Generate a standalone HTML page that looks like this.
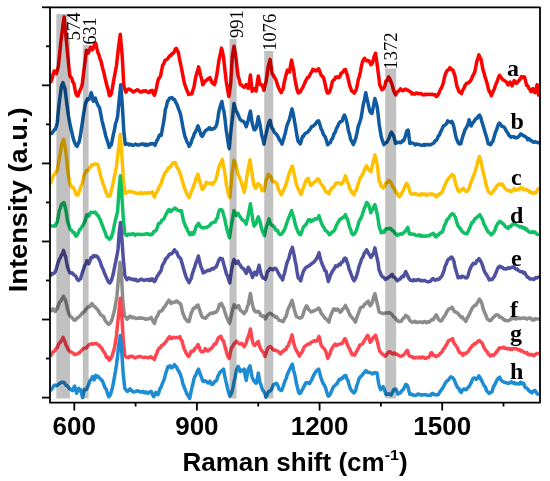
<!DOCTYPE html>
<html><head><meta charset="utf-8"><style>
html,body{margin:0;padding:0;background:#fff;}
body{width:550px;height:481px;overflow:hidden;}
svg{display:block;}
.tl{font-family:"Liberation Sans",Arial,sans-serif;font-weight:bold;font-size:26px;fill:#000;}
.ax{font-family:"Liberation Sans",Arial,sans-serif;font-weight:bold;font-size:25px;fill:#000;}
.pk{font-family:"Liberation Serif","Times New Roman",serif;font-size:18px;fill:#000;}
.lt{font-family:"Liberation Serif","Times New Roman",serif;font-weight:bold;font-size:24px;fill:#000;}
</style></head><body>
<svg width="550" height="481" viewBox="0 0 550 481">
<rect width="550" height="481" fill="#fff"/>

<g fill="none" stroke-width="3.5" stroke-linejoin="round" stroke-linecap="round">
<polyline stroke="#ff0000" points="51.0,81.5 52.1,78.7 53.1,74.1 54.2,71.0 55.2,72.5 56.2,73.7 57.2,70.6 58.3,66.7 59.6,54.3 61.0,40.5 62.1,32.1 63.1,24.0 64.2,16.9 65.4,30.6 66.7,44.2 67.9,56.6 68.8,66.0 69.8,75.3 70.8,77.1 71.8,78.3 72.8,82.0 73.9,83.6 75.0,89.3 76.0,93.7 77.0,95.8 78.0,95.9 79.0,92.7 80.1,90.3 81.2,87.8 82.2,84.2 83.2,76.1 84.3,67.3 85.3,59.8 86.4,50.3 87.5,51.0 88.5,52.9 89.5,50.2 90.5,47.1 91.5,48.0 92.6,49.8 93.6,46.9 94.7,44.3 95.7,43.2 96.8,48.4 97.8,52.2 98.9,54.7 99.9,58.6 101.0,61.0 102.5,67.7 104.0,72.9 105.1,78.4 106.1,82.2 107.2,86.6 108.2,90.0 109.3,95.4 110.3,95.4 111.3,93.7 112.3,88.5 113.4,82.1 114.4,76.5 115.5,70.9 116.5,65.2 117.5,56.4 118.6,46.5 120.3,34.3 121.3,46.0 122.3,57.2 123.8,85.7 124.8,89.3 125.9,92.1 126.9,90.2 128.0,89.4 129.0,88.9 130.4,89.9 131.8,90.6 133.2,92.1 134.6,91.2 135.9,90.7 137.3,89.7 138.7,90.7 140.1,91.9 141.5,92.0 142.9,90.9 144.2,91.2 145.6,90.6 146.8,91.6 148.0,92.4 149.2,92.5 150.2,90.8 151.3,91.7 152.3,90.3 153.4,93.7 154.4,95.2 155.4,92.2 156.4,88.2 157.4,83.0 158.5,78.8 159.6,77.8 160.6,75.6 161.6,70.5 162.7,65.2 163.8,63.9 164.8,60.6 165.8,60.0 166.8,59.5 167.9,58.5 168.9,56.8 169.9,55.6 171.0,55.5 172.1,53.4 173.1,53.5 174.1,52.1 175.2,49.3 176.2,48.3 177.2,50.3 178.3,52.4 179.3,57.7 180.3,62.6 181.4,67.9 182.4,73.0 183.4,78.1 184.5,83.6 185.6,86.8 186.6,89.6 187.6,91.7 188.7,94.5 189.7,94.0 190.8,94.0 191.8,93.9 192.9,90.2 193.9,87.6 194.9,81.6 195.9,76.2 197.2,72.1 198.6,66.9 199.6,71.1 200.7,75.6 201.8,79.6 202.8,84.8 204.1,83.0 205.3,80.9 206.4,80.6 207.4,79.1 208.7,79.0 209.9,77.6 210.9,80.0 211.9,82.3 213.2,83.7 214.6,84.6 215.6,80.5 216.7,75.4 217.8,68.2 218.8,61.2 220.2,54.5 221.5,48.1 222.6,52.2 223.6,57.7 224.8,69.2 226.1,80.4 227.4,88.8 228.8,96.5 229.8,90.2 230.7,83.5 232.3,56.5 234.0,46.2 235.1,51.8 236.1,58.5 237.1,67.6 238.1,76.0 239.1,79.2 240.2,84.5 241.5,84.9 242.9,86.5 244.2,87.3 245.2,86.8 246.2,84.5 247.2,86.5 248.3,88.3 249.4,82.1 250.4,75.0 252.1,91.2 253.1,90.4 254.1,88.7 255.1,89.8 256.2,91.0 257.2,83.3 258.3,75.9 259.8,83.6 260.8,84.8 261.8,84.7 262.9,87.0 263.9,90.3 264.9,85.7 266.0,82.0 267.1,74.7 268.1,66.9 269.1,63.3 270.1,59.4 271.1,66.7 272.2,73.7 273.2,74.9 274.3,77.1 275.4,78.8 276.4,81.1 277.4,84.7 278.5,87.6 279.9,90.5 281.2,92.7 282.2,90.3 283.2,88.6 284.2,82.6 285.3,77.9 286.4,73.7 287.4,70.1 288.4,71.7 289.5,72.0 290.6,65.4 291.6,60.1 292.6,65.3 293.6,70.1 294.6,77.0 295.7,83.2 296.9,88.9 298.2,93.0 299.2,92.4 300.3,92.0 301.3,89.8 302.4,88.1 303.4,86.2 304.4,83.8 305.5,81.3 306.5,79.4 307.5,77.6 308.6,77.2 309.6,75.6 310.7,73.3 311.7,72.0 312.8,69.4 313.8,70.2 314.9,70.1 315.9,71.0 317.2,70.1 318.6,68.7 319.9,71.8 321.1,75.2 322.1,76.0 323.2,77.2 324.2,79.8 325.2,84.7 326.2,89.3 327.3,92.9 328.6,93.1 329.8,91.4 331.1,87.0 332.5,81.3 333.5,80.0 334.6,79.4 335.6,77.2 336.8,76.8 338.0,77.5 339.2,77.5 340.2,75.6 341.2,73.0 342.2,72.6 343.3,71.7 344.4,69.7 345.4,69.5 346.4,72.5 347.5,75.9 348.6,80.7 349.6,85.5 350.6,87.9 351.6,90.9 352.9,91.8 354.1,93.1 355.1,92.1 356.2,89.7 357.2,85.7 358.3,79.5 359.4,76.2 360.4,71.6 361.4,66.3 362.4,62.2 363.4,59.9 364.5,58.3 365.6,59.8 366.6,60.9 367.6,60.5 368.7,60.7 369.8,62.0 370.8,64.7 371.8,64.0 372.8,61.6 374.1,56.8 375.5,53.2 376.6,60.5 377.6,67.9 378.6,75.6 379.7,84.7 380.8,87.2 381.8,89.7 382.9,89.2 383.9,88.2 384.9,85.6 385.9,81.2 387.2,80.6 388.6,77.0 389.9,79.1 391.1,82.1 392.1,84.5 393.2,89.0 394.4,92.5 395.7,94.9 396.8,92.6 397.8,91.5 399.1,90.9 400.5,88.8 401.6,90.2 402.6,90.7 403.6,90.4 404.7,89.4 405.7,89.1 406.7,89.9 407.8,89.9 408.8,90.9 409.8,91.3 410.9,92.1 411.9,93.9 412.9,93.3 414.0,94.0 415.1,94.0 416.1,92.9 417.3,93.2 418.6,93.8 419.8,93.6 421.1,93.5 422.3,94.6 423.6,94.9 424.8,94.2 426.1,94.8 427.3,94.2 428.6,94.3 429.7,94.5 430.8,94.6 432.0,94.2 433.1,94.7 434.2,94.7 435.2,94.7 436.3,96.5 437.3,95.8 438.3,94.2 439.4,91.9 440.4,89.6 441.4,87.9 442.5,85.4 443.6,81.8 444.6,76.7 445.6,73.7 446.6,71.4 447.7,70.1 448.7,69.8 449.8,67.7 450.8,68.6 451.9,69.6 452.9,70.0 453.9,72.9 454.9,75.7 455.9,80.8 457.0,86.5 458.1,89.2 459.1,91.8 460.4,92.4 461.6,93.6 462.6,90.3 463.7,88.8 465.0,85.5 466.4,83.5 467.4,82.9 468.5,82.9 469.5,81.8 470.5,80.8 471.6,78.9 472.6,76.0 473.6,74.5 474.7,72.1 475.8,66.9 476.8,61.4 477.9,58.3 478.9,54.9 479.9,57.7 480.9,58.9 481.9,64.1 483.0,69.9 484.1,73.2 485.1,77.3 486.1,80.3 487.2,83.5 488.2,88.2 489.3,91.6 490.3,92.9 491.3,95.7 492.4,93.5 493.4,90.6 494.4,88.8 495.5,85.1 496.6,82.8 497.6,80.1 498.6,77.2 499.6,75.4 500.6,76.8 501.7,78.3 502.8,79.8 503.8,80.2 504.9,81.0 505.9,81.5 506.9,82.8 508.0,84.9 509.0,83.1 510.0,82.1 511.1,84.1 512.1,85.8 513.2,82.5 514.2,80.6 515.2,81.9 516.3,83.4 517.3,82.7 518.4,81.0 519.4,80.2 520.5,78.5 521.5,76.7 522.5,77.5 523.6,76.7 524.6,77.1 525.7,81.7 526.7,85.6 527.8,85.9 528.8,88.3 529.8,89.2 530.8,91.7 531.8,91.0 532.9,88.5 534.0,91.5 535.0,92.7 536.0,89.2 537.1,84.7 538.5,94.9"/>
<polyline stroke="#0f5aa0" points="51.0,133.6 52.0,133.3 53.1,131.5 54.2,129.9 55.2,129.6 56.2,126.4 57.3,122.7 58.3,111.3 59.4,101.6 60.4,93.8 61.4,86.3 62.9,82.6 64.0,85.8 65.0,88.9 66.6,102.0 67.7,110.4 68.7,117.4 69.8,123.2 70.8,128.3 71.8,132.0 72.9,137.3 73.9,140.6 74.9,143.2 76.0,145.3 77.0,146.4 78.0,144.0 79.1,142.2 80.2,136.9 81.2,130.3 82.2,123.4 83.3,115.5 84.3,110.0 85.3,104.0 86.3,101.5 87.4,98.9 88.5,99.6 89.5,98.9 91.2,92.7 92.2,95.8 93.2,101.3 94.2,99.5 95.3,98.0 96.3,101.3 97.4,104.0 98.5,106.2 99.5,107.5 100.8,114.2 102.0,120.6 103.2,125.5 104.5,130.5 105.8,136.2 107.2,140.3 108.2,143.5 109.3,147.4 110.3,145.5 111.3,145.0 112.3,139.8 113.4,134.1 114.5,129.8 115.5,123.7 116.5,121.0 117.6,116.4 119.2,100.0 120.7,84.8 122.3,105.0 123.8,131.1 125.3,144.5 126.7,143.9 128.0,143.7 129.3,144.9 130.6,144.2 131.9,145.0 133.2,145.4 134.4,144.9 135.7,144.0 136.9,145.0 138.2,145.1 139.4,144.8 140.7,144.6 142.0,143.9 143.3,144.0 144.6,145.2 145.8,144.2 146.9,145.4 148.0,144.4 149.2,144.7 150.2,143.8 151.3,144.0 152.3,143.5 153.7,143.9 155.0,145.2 156.1,142.6 157.1,140.2 158.1,138.6 159.1,135.8 160.1,134.6 161.2,135.5 162.2,129.9 163.3,123.9 164.4,117.4 165.4,109.2 166.4,106.5 167.5,101.2 168.5,100.4 169.5,98.3 170.8,98.1 172.0,97.5 173.2,99.2 174.5,99.5 175.6,102.1 176.6,103.7 177.6,106.1 178.7,109.4 179.8,111.9 180.8,115.6 181.8,121.0 182.8,126.5 183.9,131.8 184.9,136.4 185.9,138.7 187.0,142.0 188.1,143.5 189.1,146.4 190.1,144.9 191.2,142.6 192.2,138.9 193.2,137.1 194.2,134.0 195.3,132.2 196.7,129.1 198.0,125.9 199.1,129.1 200.1,132.2 201.1,135.1 202.2,136.5 203.2,134.6 204.3,132.4 205.7,130.4 207.0,129.9 208.2,128.9 209.4,127.6 210.7,129.4 211.9,128.8 213.2,129.0 214.6,128.0 215.6,127.0 216.7,124.7 217.8,118.6 218.8,112.1 219.8,107.7 220.9,104.4 221.9,101.5 222.9,107.5 224.0,111.4 225.1,119.8 226.1,129.3 227.1,135.8 228.2,143.5 229.2,148.7 230.2,138.1 231.3,127.0 232.7,115.7 234.0,103.5 235.1,107.6 236.1,110.5 237.1,112.3 238.1,114.6 239.1,117.1 240.2,119.7 241.5,120.7 242.9,121.2 244.2,122.3 245.2,124.3 246.2,126.8 247.2,123.7 248.3,119.7 249.4,114.9 250.4,111.1 252.1,122.7 253.1,126.5 254.1,129.8 255.1,129.7 256.2,127.9 257.2,122.9 258.3,116.8 259.8,123.6 260.8,129.2 261.8,135.5 262.9,139.0 263.9,144.3 264.9,138.8 266.0,134.3 267.1,129.3 268.1,125.0 269.1,121.9 270.1,120.3 271.1,125.2 272.2,128.5 273.2,129.5 274.3,132.4 275.4,133.2 276.4,134.2 277.4,135.8 278.5,137.5 279.5,140.0 280.8,141.5 282.0,144.1 283.1,140.6 284.1,137.2 285.5,132.2 286.8,126.0 288.1,122.7 289.5,119.1 290.8,113.6 292.0,108.9 293.1,113.4 294.1,118.8 295.1,124.5 296.1,130.2 297.1,136.5 298.2,141.5 299.2,142.3 300.3,143.9 301.4,140.5 302.4,136.6 303.4,136.5 304.5,134.2 305.5,133.3 306.5,132.9 307.6,132.1 308.6,131.0 309.6,129.9 310.7,128.2 311.7,126.4 312.7,126.5 313.8,125.5 314.8,124.7 316.1,122.9 317.3,121.2 318.6,120.8 319.9,124.6 321.1,129.0 322.1,130.5 323.2,134.0 324.2,135.7 325.2,136.7 326.4,140.6 327.7,144.8 329.0,143.3 330.4,142.6 331.4,139.6 332.5,138.5 333.9,134.1 335.2,132.2 336.4,128.7 337.7,126.3 338.9,123.4 340.2,121.8 341.2,121.5 342.3,120.8 343.4,117.1 344.4,115.0 345.4,117.3 346.4,120.5 347.4,125.1 348.5,130.9 349.6,134.4 350.6,139.4 352.0,141.7 353.3,144.6 354.6,141.6 355.8,138.2 357.1,132.4 358.3,126.1 359.6,122.8 361.0,118.3 362.1,111.7 363.1,105.5 364.5,99.4 365.8,92.7 366.8,98.2 367.8,102.0 368.9,107.4 369.9,111.4 370.9,112.7 372.0,113.5 373.4,106.5 374.9,98.4 375.9,102.1 377.0,105.8 378.1,114.3 379.1,123.8 380.1,130.0 381.2,136.6 382.5,141.0 383.9,144.7 385.2,142.9 386.6,142.6 387.9,140.3 389.1,138.0 390.3,134.4 391.5,132.2 392.6,134.3 393.6,135.7 394.6,139.5 395.7,143.4 397.0,142.6 398.4,142.6 399.4,142.1 400.5,142.8 401.5,142.3 402.5,140.6 403.6,140.7 404.6,138.4 405.6,135.3 406.7,131.1 408.2,130.0 409.8,143.4 411.2,142.8 412.6,143.1 414.0,143.6 415.2,144.9 416.5,144.1 417.7,144.3 419.0,144.6 420.2,144.9 421.5,145.3 422.7,145.2 424.0,144.4 425.2,145.4 426.5,144.5 427.6,144.6 428.7,144.9 429.8,144.8 430.9,144.7 432.0,143.9 433.1,143.6 434.1,142.6 435.2,140.7 436.2,140.5 437.3,138.7 438.3,136.0 439.4,135.2 440.4,132.1 441.4,130.7 442.4,128.2 443.5,125.8 444.6,125.4 445.6,124.4 446.6,123.5 447.7,120.9 448.8,121.7 449.8,121.8 450.8,122.4 451.8,121.4 452.9,123.5 453.9,127.1 454.9,131.9 456.0,137.4 457.1,140.1 458.1,142.7 459.5,144.1 460.8,143.7 461.8,139.9 462.8,136.3 463.9,133.2 464.9,130.0 465.9,128.3 467.0,126.5 468.1,124.1 469.1,119.8 470.1,123.3 471.2,126.0 472.4,123.3 473.7,121.8 474.7,120.4 475.7,118.7 476.8,118.5 477.8,116.8 479.5,115.0 480.6,117.0 481.6,120.8 482.6,124.0 483.6,127.3 484.6,130.7 485.7,134.4 486.9,138.2 488.2,143.8 489.4,144.1 490.7,144.7 491.8,142.2 492.8,141.5 494.1,136.9 495.5,132.3 496.6,129.8 497.6,126.4 498.6,123.9 499.6,123.1 500.6,124.5 501.7,126.2 503.0,126.5 504.4,127.4 505.4,129.3 506.5,131.3 507.8,133.1 509.0,135.5 510.0,136.1 511.1,137.3 512.1,136.7 513.1,136.9 514.2,136.8 515.2,137.8 516.3,137.8 517.3,137.6 518.4,136.6 519.4,135.9 520.5,134.1 521.5,134.2 522.5,135.0 523.6,136.0 524.6,136.1 525.6,136.9 526.7,137.8 527.7,139.8 528.7,138.5 529.8,139.6 530.8,140.7 531.9,140.7 532.9,142.1 534.0,142.2 535.4,141.8 536.7,142.3 538.1,142.7"/>
<polyline stroke="#ffc000" points="51.0,182.6 52.0,179.2 53.1,176.0 54.2,174.5 55.2,173.8 56.2,171.5 57.3,170.1 58.3,164.3 59.4,157.9 60.4,152.3 61.4,145.3 62.5,142.1 63.5,139.3 64.5,143.8 65.6,150.1 66.7,159.7 67.7,170.1 68.8,177.3 69.8,183.2 70.8,185.6 71.8,187.5 72.8,187.2 73.9,188.7 75.0,191.1 76.0,194.6 77.0,194.7 78.1,195.0 79.1,192.2 80.1,189.2 81.2,185.9 82.2,183.6 83.2,178.7 84.3,174.3 85.3,173.0 86.4,170.5 87.5,171.1 88.5,170.1 89.5,167.7 90.5,166.8 91.6,164.9 92.6,165.2 93.7,164.3 94.7,164.3 95.7,163.7 96.8,164.3 97.8,164.4 98.8,168.0 99.9,172.4 101.0,177.1 102.0,180.0 103.0,183.7 104.1,186.2 105.1,189.7 106.1,192.4 107.2,194.5 108.2,196.3 109.2,195.3 110.3,195.7 111.3,190.3 112.4,186.4 113.4,181.3 114.4,176.3 115.5,171.7 116.5,165.9 117.5,157.1 118.6,148.1 120.3,134.3 121.9,156.3 123.6,183.0 125.3,193.6 126.7,192.8 128.0,192.0 129.0,191.5 130.1,191.5 131.1,191.6 132.5,192.0 133.8,192.3 135.2,192.7 136.2,193.2 137.3,193.4 138.3,193.3 139.4,193.3 140.8,192.4 142.2,193.8 143.6,193.1 144.7,192.8 145.8,193.1 147.0,193.5 148.1,192.6 149.2,192.7 150.2,192.7 151.3,193.0 152.3,191.9 153.4,194.6 154.4,197.1 155.4,194.0 156.4,192.7 157.8,190.2 159.1,187.3 160.1,185.2 161.2,183.7 162.2,179.8 163.3,176.7 164.4,174.7 165.4,172.1 166.4,171.4 167.5,169.7 168.5,167.8 169.5,167.7 170.6,166.4 171.6,164.7 172.8,163.2 174.1,162.4 175.1,162.9 176.2,165.0 177.2,167.9 178.3,168.9 179.3,171.4 180.3,174.1 181.4,177.6 182.4,181.2 183.4,184.4 184.5,188.7 185.6,190.2 186.6,193.8 187.8,195.1 189.1,197.6 190.1,194.9 191.2,191.8 192.6,188.7 193.9,185.0 194.9,182.5 195.9,178.9 196.9,176.4 198.0,174.2 199.1,179.2 200.1,182.6 201.1,186.2 202.2,189.3 203.2,188.7 204.3,186.4 205.3,185.1 206.3,182.3 207.3,183.0 208.4,183.1 209.4,183.2 210.5,183.7 211.5,183.0 212.6,184.4 213.6,182.5 214.7,181.6 215.7,180.1 216.9,175.6 218.2,169.5 219.2,166.3 220.3,163.3 221.3,161.8 222.3,159.4 223.4,165.6 224.4,170.2 225.4,177.1 226.5,185.2 227.6,190.4 228.6,195.1 229.8,197.3 230.9,186.0 231.9,174.6 232.9,167.6 234.0,160.3 235.1,162.5 236.1,165.3 237.1,169.6 238.1,174.1 239.1,176.6 240.2,179.3 241.5,183.0 242.9,187.4 244.2,192.2 245.2,187.1 246.2,180.8 247.2,174.1 248.3,168.6 250.0,159.7 251.6,170.8 252.6,177.4 253.7,184.3 254.8,186.8 255.8,188.4 256.9,185.8 257.9,183.7 258.9,184.9 260.0,185.1 261.0,187.3 262.0,190.7 263.1,190.0 264.1,190.7 265.1,185.0 266.2,179.7 267.2,177.6 268.3,174.2 269.4,175.5 270.4,176.2 271.4,178.1 272.4,181.3 273.4,181.8 274.5,181.7 275.6,182.2 276.6,183.1 277.6,186.5 278.7,189.9 279.9,191.8 281.2,194.9 282.4,192.6 283.7,189.7 284.9,187.3 286.2,183.9 287.2,180.2 288.2,176.7 289.2,173.5 290.3,170.2 291.4,167.7 292.4,166.2 293.4,170.6 294.5,175.8 295.5,180.4 296.5,184.4 297.6,187.8 298.6,189.5 299.9,192.0 301.1,194.5 302.4,190.4 303.6,187.4 304.9,183.2 306.1,180.2 307.1,179.3 308.2,178.4 309.4,182.3 310.7,185.4 311.9,184.4 313.2,183.1 314.5,182.0 315.9,181.2 317.2,179.0 318.6,178.9 319.9,181.6 321.1,184.3 322.4,185.3 323.6,187.3 325.0,190.5 326.3,192.3 327.6,192.1 329.0,193.8 330.2,190.9 331.5,188.2 332.6,187.9 333.6,187.1 334.8,185.1 336.0,183.1 337.1,183.0 338.1,183.0 339.1,183.0 340.2,183.6 341.2,184.2 342.2,182.7 343.3,181.4 344.4,179.0 345.4,175.7 346.4,178.9 347.5,182.0 348.6,184.2 349.6,188.5 350.6,189.6 351.6,192.0 352.9,193.6 354.1,194.8 355.1,191.4 356.2,190.5 357.2,187.0 358.3,183.3 359.4,180.6 360.4,177.4 361.4,176.3 362.4,174.8 363.4,172.7 364.5,170.0 365.6,167.2 366.6,165.8 367.6,167.8 368.7,169.8 369.8,170.5 370.8,171.8 371.8,168.1 372.8,163.4 373.9,159.2 374.9,154.9 375.9,159.1 377.0,163.8 378.1,172.1 379.1,181.2 380.1,182.6 381.2,186.4 382.2,187.1 383.2,188.1 384.5,186.2 385.9,183.0 387.2,182.8 388.6,180.4 389.9,181.6 391.1,182.8 392.4,186.0 393.6,187.6 395.0,190.1 396.3,192.9 397.3,193.4 398.4,195.8 399.4,196.8 400.6,195.4 401.9,193.1 403.2,190.7 404.6,187.2 405.6,184.9 406.7,183.4 407.8,184.9 408.8,187.7 409.9,191.9 410.9,193.8 412.3,194.3 413.6,194.1 415.0,193.4 416.3,194.4 417.6,194.2 418.9,194.9 420.2,195.0 421.5,193.6 422.7,194.6 424.0,194.3 425.2,194.1 426.5,195.5 427.6,194.0 428.7,194.6 429.8,194.1 430.9,194.5 432.0,193.8 433.1,194.8 434.1,194.8 435.2,195.1 436.2,196.8 437.3,195.0 438.3,195.3 439.4,193.8 440.8,193.7 442.1,191.7 443.1,189.7 444.1,187.2 445.1,184.3 446.2,182.3 447.4,180.2 448.7,178.2 449.7,177.2 450.8,176.1 451.8,174.3 452.9,175.5 453.9,175.8 454.9,180.3 456.0,185.2 457.1,187.7 458.1,190.6 459.5,191.6 460.8,190.3 462.1,189.3 463.3,188.3 464.6,190.1 465.8,191.4 466.8,191.3 467.8,190.7 469.1,188.1 470.5,183.4 471.9,180.3 473.2,176.2 474.4,173.8 475.7,169.7 476.8,165.9 477.8,161.4 479.5,156.5 480.6,160.1 481.6,164.0 482.6,170.0 483.6,173.6 484.9,179.2 486.1,185.0 487.4,189.0 488.6,191.9 490.0,192.9 491.3,193.9 492.6,191.9 494.0,190.1 495.2,188.9 496.5,186.1 497.5,185.3 498.6,184.4 499.6,184.0 501.0,184.7 502.3,184.1 503.6,186.1 504.8,188.4 505.9,189.2 506.9,190.0 508.0,190.8 509.0,190.2 510.1,190.6 511.1,191.7 512.1,190.8 513.2,190.3 514.2,188.6 515.2,189.7 516.3,190.2 517.3,189.6 518.3,188.9 519.4,189.4 520.4,187.6 521.5,188.1 522.5,188.0 523.6,189.6 524.6,189.5 525.7,189.3 526.7,189.9 527.7,190.6 528.8,190.6 529.8,192.5 530.8,191.8 531.9,192.6 532.9,193.6 533.9,192.5 535.0,192.9 536.0,192.7 537.0,190.9 538.1,188.9"/>
<polyline stroke="#10c065" points="51.0,226.1 52.0,226.1 53.1,226.1 54.2,226.0 55.2,226.1 56.2,223.5 57.3,222.0 58.3,216.4 59.4,210.4 60.4,207.9 61.4,204.2 62.6,204.0 63.9,202.5 65.0,206.2 66.0,210.8 67.0,217.8 68.1,223.1 69.2,226.2 70.2,229.3 71.2,230.1 72.2,231.1 73.2,232.7 74.3,232.5 75.3,235.3 76.4,236.2 77.5,234.6 78.5,232.4 79.5,229.8 80.6,229.0 81.6,227.1 82.6,225.9 83.7,223.9 84.7,221.9 85.8,218.5 86.8,214.8 87.8,215.8 88.9,216.0 90.0,213.3 91.0,212.1 92.3,212.4 93.7,212.8 95.0,212.1 96.2,213.3 97.2,215.0 98.2,215.5 99.2,217.7 100.3,219.8 101.3,222.6 102.4,225.4 103.5,228.4 104.5,230.9 105.5,233.2 106.5,236.7 107.9,237.4 109.3,239.2 110.3,238.6 111.3,237.6 112.3,234.1 113.4,230.0 114.5,224.2 115.5,220.0 116.5,215.9 117.6,211.4 119.0,190.7 120.3,175.8 121.7,192.4 123.2,217.5 124.8,233.4 125.8,234.8 126.9,235.6 128.3,234.1 129.7,234.7 131.1,234.3 132.5,233.7 133.8,233.9 135.2,235.2 136.2,234.3 137.3,234.2 138.3,234.4 139.4,234.2 140.7,234.6 142.0,234.6 143.3,234.5 144.6,234.2 145.8,234.0 146.9,233.8 148.1,234.0 149.1,234.7 150.2,234.2 151.2,234.8 152.4,234.1 153.7,231.7 155.1,231.2 156.4,230.0 157.4,227.0 158.5,223.6 159.6,223.2 160.6,222.9 161.6,220.5 162.7,219.9 163.8,219.0 164.8,216.7 165.8,214.8 166.8,212.8 167.9,211.0 168.9,209.5 169.9,211.4 171.0,211.6 172.1,210.0 173.1,209.8 174.1,208.4 175.1,208.1 176.1,209.0 177.2,209.8 178.2,210.5 179.3,210.6 180.4,211.2 181.4,210.7 182.4,215.7 183.5,221.0 184.5,223.5 185.5,226.4 186.6,227.9 187.6,230.6 188.6,232.2 189.7,234.6 190.8,234.3 191.8,232.5 192.9,234.3 193.9,233.8 194.9,230.5 195.9,227.4 197.2,224.9 198.6,223.3 199.6,225.4 200.7,226.8 201.8,227.3 202.8,228.0 204.1,227.6 205.3,227.5 206.4,227.5 207.4,226.9 208.7,226.2 209.9,225.1 211.2,223.4 212.6,222.9 213.9,222.0 215.3,221.9 216.3,218.9 217.3,218.2 218.4,213.0 219.4,210.3 220.4,209.4 221.5,209.6 222.6,211.1 223.6,214.9 224.6,218.2 225.7,224.0 226.7,228.1 227.7,231.9 229.4,237.7 230.4,231.8 231.3,225.6 232.7,217.9 234.0,210.6 235.1,213.7 236.1,215.4 237.1,213.9 238.1,213.4 239.1,215.5 240.2,216.8 241.5,218.9 242.9,220.3 244.2,220.9 245.2,222.2 246.2,224.2 247.2,219.6 248.3,214.9 249.4,209.4 250.4,203.8 252.1,215.6 253.1,221.6 254.1,226.0 255.1,224.4 256.2,223.5 257.2,219.7 258.3,216.8 259.4,219.9 260.4,222.9 261.4,228.0 262.5,231.3 263.5,233.6 264.5,235.7 265.6,229.8 266.6,226.1 267.9,222.7 269.1,218.9 270.1,222.7 271.2,225.0 272.2,225.0 273.3,226.3 274.3,226.6 275.3,229.3 276.4,230.4 277.4,230.3 278.6,233.1 279.9,234.5 281.2,234.2 282.6,232.7 283.6,231.3 284.7,229.2 285.8,226.0 286.8,222.9 287.9,219.7 288.9,217.4 290.2,214.3 291.6,210.5 292.6,214.5 293.6,216.7 294.6,221.5 295.7,225.7 296.9,228.9 298.2,232.3 299.4,234.1 300.7,234.6 302.0,231.0 303.4,227.0 304.8,225.7 306.1,224.3 307.4,221.9 308.6,219.7 309.9,219.7 311.1,221.6 312.5,220.0 313.8,220.2 315.1,218.6 316.5,219.0 317.8,218.5 319.0,215.7 320.2,219.6 321.5,223.3 322.9,226.3 324.2,228.1 325.5,230.5 326.9,231.4 328.1,232.8 329.4,234.7 330.6,233.9 331.9,232.1 333.2,231.5 334.6,230.1 336.1,226.0 337.5,223.3 338.9,221.0 340.2,219.0 341.5,218.7 342.9,217.3 344.1,216.8 345.4,214.5 346.4,218.0 347.5,218.9 348.6,223.4 349.6,227.3 350.6,229.1 351.6,233.1 352.9,234.8 354.1,234.2 355.4,232.4 356.6,229.7 357.9,225.5 359.1,221.0 360.4,218.9 361.6,217.0 362.9,212.8 364.1,208.8 365.4,206.1 366.6,202.5 367.6,203.5 368.7,205.1 369.8,208.7 370.8,212.8 371.8,210.1 372.8,209.4 373.9,206.3 374.9,204.7 375.9,208.5 377.0,213.4 378.1,219.2 379.1,226.1 380.1,229.4 381.2,232.8 382.5,231.7 383.9,232.4 385.2,229.6 386.6,228.8 388.1,229.1 389.5,228.3 390.9,228.6 392.2,230.5 393.5,231.0 394.9,233.1 396.1,234.1 397.4,235.4 398.4,234.3 399.5,234.2 400.5,233.7 401.5,234.3 402.6,233.7 403.6,232.7 404.9,231.8 406.1,230.0 407.8,227.4 409.4,234.0 410.6,233.7 411.8,234.2 413.0,234.3 414.3,234.3 415.6,235.2 416.9,235.5 418.2,235.5 419.4,234.8 420.7,236.2 421.9,235.4 423.2,236.2 424.4,236.3 425.7,235.8 427.0,235.9 428.3,235.9 429.6,235.3 430.8,234.3 431.9,234.2 433.1,233.4 434.1,234.2 435.2,236.5 436.2,236.9 437.3,235.0 438.3,235.1 439.4,233.7 440.8,232.5 442.1,232.3 443.4,229.1 444.6,225.1 445.8,223.0 447.0,219.6 448.4,218.6 449.8,216.3 451.1,214.4 452.5,213.6 453.5,214.3 454.5,215.9 455.6,217.7 456.6,221.8 457.9,225.3 459.1,227.3 460.4,228.7 461.6,230.9 463.0,232.2 464.3,233.2 465.6,233.5 467.0,233.7 468.2,231.2 469.5,228.6 470.8,225.2 472.0,222.4 473.4,221.8 474.7,218.9 476.0,218.0 477.4,216.8 478.6,215.8 479.9,214.7 481.1,217.1 482.4,219.3 483.8,223.8 485.1,225.9 486.1,228.3 487.2,230.1 488.2,232.2 489.2,232.6 490.3,233.5 491.3,234.9 492.6,233.7 494.0,231.9 495.2,229.4 496.5,225.7 497.5,223.8 498.6,223.1 499.6,221.3 501.0,221.8 502.3,223.4 503.6,224.0 504.8,225.9 505.9,227.0 506.9,227.5 508.0,228.5 509.0,226.5 510.1,226.9 511.1,226.1 512.1,224.6 513.2,224.3 514.2,223.1 515.2,224.0 516.3,225.0 517.3,225.5 518.3,225.9 519.4,226.7 520.4,227.0 521.5,226.5 522.5,227.5 523.6,228.2 524.6,227.7 525.7,229.5 526.7,229.0 527.7,230.8 528.8,231.7 529.8,232.2 530.8,232.0 531.9,232.5 532.9,231.5 533.9,232.3 535.0,232.1 536.0,233.2 537.0,234.2 538.1,234.4"/>
<polyline stroke="#5050a0" points="51.0,275.1 52.0,273.5 53.1,273.7 54.2,273.1 55.2,271.8 56.2,269.1 57.3,265.2 58.3,262.1 59.4,259.1 60.4,257.7 61.4,254.8 62.5,254.0 63.5,250.4 64.5,253.8 65.6,256.7 66.7,263.0 67.7,267.6 68.8,270.4 69.8,272.7 70.8,273.2 71.8,272.8 72.8,273.5 73.9,274.9 75.0,275.7 76.0,276.5 77.2,279.2 78.5,280.5 79.5,279.5 80.6,278.8 81.6,274.9 82.6,271.7 83.7,268.7 84.7,265.5 85.8,263.9 86.8,260.7 87.8,262.5 88.9,263.7 90.0,260.8 91.0,257.6 92.3,257.7 93.7,255.5 95.0,256.4 96.2,255.7 97.2,256.6 98.2,257.9 99.2,259.8 100.3,262.0 101.3,265.5 102.4,268.2 103.5,270.2 104.5,273.2 105.8,276.1 107.2,279.2 108.5,281.9 109.7,283.1 110.7,281.9 111.7,279.5 112.8,275.8 113.8,271.1 114.8,266.0 115.9,260.8 117.0,255.1 118.0,249.8 119.2,233.0 120.5,222.5 121.7,236.0 123.2,257.7 124.8,275.4 125.8,277.6 126.9,279.7 127.9,278.3 129.0,278.0 130.0,278.7 131.1,278.9 132.1,279.5 133.2,279.1 134.6,280.2 135.9,279.3 137.3,280.9 138.7,280.7 140.1,279.7 141.5,279.1 142.9,280.0 144.2,280.4 145.6,280.0 146.8,279.5 148.0,279.8 149.2,280.7 150.2,279.2 151.3,280.2 152.3,278.8 153.4,280.3 154.4,281.7 155.4,280.5 156.4,277.7 157.8,275.3 159.1,273.4 160.1,272.1 161.2,270.4 162.2,265.9 163.3,263.8 164.4,262.1 165.4,259.3 166.7,258.0 167.9,256.8 168.9,254.9 170.0,253.9 171.0,254.0 172.0,253.3 173.2,251.7 174.5,249.8 175.6,251.8 176.6,251.9 177.6,254.5 178.7,256.9 179.8,257.7 180.8,258.7 181.8,262.6 182.8,266.0 183.9,269.8 184.9,273.4 185.9,276.3 187.0,279.0 188.1,280.7 189.1,282.6 190.1,280.5 191.2,278.5 192.2,274.3 193.2,271.2 194.6,267.3 195.9,263.0 197.2,260.0 198.4,256.0 199.6,261.3 200.7,266.1 201.9,268.9 203.2,272.9 204.4,272.4 205.7,271.6 207.1,270.7 208.4,270.2 209.8,270.6 211.1,269.2 212.3,268.7 213.6,269.1 214.8,267.4 216.1,267.0 217.1,264.8 218.2,261.9 219.2,259.4 220.3,258.2 221.3,259.1 222.3,258.7 223.4,262.9 224.4,266.6 225.4,270.0 226.5,274.2 227.6,276.0 228.6,279.6 229.8,282.9 230.9,274.3 231.9,268.1 232.9,263.2 234.0,259.6 235.1,261.3 236.1,263.4 237.1,262.5 238.1,261.2 239.1,264.0 240.2,265.1 241.5,267.4 242.9,268.3 244.2,269.4 245.2,271.5 246.2,273.5 247.2,271.4 248.3,267.2 249.4,269.4 250.4,271.4 251.4,274.0 252.5,277.5 253.6,274.6 254.6,272.2 255.6,274.1 256.6,274.9 257.9,269.6 259.1,265.2 260.1,269.9 261.2,274.3 262.2,276.8 263.3,278.2 264.4,278.3 265.4,279.3 266.4,276.2 267.4,271.6 268.8,270.5 270.1,268.4 271.5,268.9 272.8,269.8 274.1,268.7 275.3,268.2 276.6,269.6 277.8,272.1 279.1,274.3 280.5,276.9 281.6,277.8 282.6,280.0 283.6,275.9 284.7,272.4 285.8,267.6 286.8,263.3 287.9,260.5 288.9,258.2 289.9,253.9 290.9,250.7 292.4,247.4 294.1,255.1 295.1,260.6 296.1,265.1 297.1,272.0 298.2,277.8 299.4,279.1 300.7,280.9 302.0,275.8 303.4,271.2 304.8,269.0 306.1,267.3 307.4,266.7 308.6,266.2 309.9,265.1 311.1,264.1 312.5,263.0 313.8,262.2 315.1,260.6 316.5,258.8 317.8,256.2 319.0,252.7 320.1,257.8 321.1,261.1 322.4,264.7 323.6,267.1 324.9,270.5 326.1,271.3 327.2,276.7 328.4,281.6 329.4,278.4 330.4,275.3 331.8,272.2 333.1,270.3 334.4,268.5 335.6,265.9 336.6,266.5 337.5,266.3 338.9,264.4 340.2,264.9 341.5,262.4 342.9,261.8 343.9,259.2 345.0,258.0 346.1,258.7 347.1,262.2 348.1,264.9 349.1,269.1 350.4,272.2 351.6,275.5 352.9,278.9 354.1,280.7 355.4,278.8 356.6,275.6 357.9,271.2 359.1,266.2 360.4,262.9 361.6,259.0 362.9,257.1 364.1,253.6 365.4,251.9 366.6,249.8 367.6,251.5 368.7,253.6 369.8,255.3 370.8,257.4 371.8,256.5 372.8,254.2 373.9,252.0 374.9,247.9 375.9,253.0 377.0,257.7 378.1,262.8 379.1,270.1 380.1,272.1 381.2,275.2 382.5,276.8 383.9,277.6 385.2,279.4 386.6,278.8 388.1,277.6 389.5,277.0 390.9,275.4 392.2,274.4 393.5,277.0 394.9,277.6 396.1,279.3 397.4,280.8 398.4,279.5 399.5,279.4 400.5,278.7 401.5,277.0 402.6,276.1 403.6,276.6 404.6,274.1 405.7,271.5 406.8,273.8 407.8,276.1 409.1,278.7 410.3,280.2 411.5,280.4 412.8,280.7 414.0,279.5 415.3,280.6 416.6,280.3 417.9,279.4 419.2,279.8 420.5,280.7 421.8,280.5 423.1,280.7 424.4,280.4 425.7,281.0 427.0,281.6 428.3,281.9 429.6,281.4 430.8,281.0 431.9,279.2 433.1,278.6 434.1,279.6 435.2,280.4 436.2,279.6 437.3,279.3 438.3,279.5 439.4,278.9 440.8,277.1 442.1,275.6 443.1,272.8 444.1,270.3 445.1,266.2 446.2,264.1 447.4,260.8 448.7,259.0 449.7,259.0 450.8,257.3 451.8,257.1 452.9,258.9 453.9,261.1 454.9,266.8 456.0,270.4 457.1,274.4 458.1,277.8 459.5,276.7 460.8,277.7 462.1,276.3 463.3,276.5 464.6,277.3 465.8,278.0 466.8,277.8 467.8,276.4 469.1,271.7 470.5,267.9 471.9,265.4 473.2,263.3 474.4,263.8 475.7,263.4 476.8,260.7 477.8,260.5 478.9,258.7 480.2,260.2 481.6,263.0 482.9,266.6 484.1,270.4 485.3,273.0 486.5,274.6 487.9,277.0 489.3,279.9 490.6,279.2 492.0,279.6 493.2,278.0 494.4,276.4 495.6,273.5 496.9,270.4 498.2,267.5 499.6,266.2 500.7,266.5 501.7,267.6 502.8,267.6 503.8,268.8 504.9,268.7 505.9,269.0 506.9,268.8 508.0,267.7 509.0,268.4 510.0,268.0 511.1,267.6 512.1,267.2 513.1,266.9 514.2,267.4 515.2,268.6 516.3,269.5 517.3,269.0 518.4,270.4 519.4,271.1 520.5,271.5 521.5,271.9 522.5,271.7 523.6,273.1 524.6,272.5 525.6,274.4 526.7,276.1 527.7,277.3 528.7,277.4 529.8,279.1 530.8,278.9 531.9,279.1 532.9,279.1 534.0,279.5 535.4,277.8 536.7,278.0 538.1,277.1"/>
<polyline stroke="#8c8c8c" points="51.0,310.7 52.0,310.5 53.1,308.8 54.2,310.6 55.2,311.5 56.2,309.6 57.3,308.4 58.3,305.7 59.4,302.3 60.4,301.5 61.4,300.1 62.5,297.8 63.5,296.3 64.5,298.7 65.6,300.7 66.7,305.2 67.7,309.7 68.8,313.4 69.8,315.8 70.8,316.7 71.8,317.5 73.2,319.2 74.5,320.3 75.8,319.7 77.0,318.0 78.0,317.7 79.1,316.7 80.3,315.7 81.6,314.0 82.7,312.7 83.7,312.1 84.8,311.2 85.8,309.3 86.8,308.6 87.8,307.1 88.8,306.5 89.9,306.8 91.0,304.6 92.0,303.6 93.0,305.2 94.1,306.3 95.2,307.0 96.2,308.3 97.2,309.2 98.2,310.6 99.6,313.0 100.9,314.9 102.2,315.7 103.6,316.5 104.8,319.8 106.1,321.6 107.3,323.0 108.6,324.4 109.7,323.6 110.7,322.6 111.8,320.0 112.8,316.7 113.8,313.0 114.9,308.4 115.9,302.0 116.9,296.5 118.6,277.0 120.1,262.3 121.5,275.7 122.8,300.6 124.4,316.0 125.7,316.9 126.9,319.2 127.9,318.5 129.0,317.0 130.0,316.1 131.1,317.2 132.1,317.9 133.2,317.1 134.6,317.8 135.9,318.5 137.3,318.2 138.7,318.3 140.1,317.8 141.5,318.2 142.9,318.2 144.2,318.5 145.6,319.4 146.8,319.0 148.1,319.0 149.1,318.4 150.2,318.1 151.2,317.3 152.3,320.0 153.3,321.6 154.4,323.4 155.4,320.2 156.4,317.3 157.8,315.4 159.1,311.9 160.3,311.3 161.6,310.8 162.8,309.3 164.1,307.1 165.1,306.2 166.2,304.3 167.6,302.1 168.9,300.2 169.9,301.4 171.0,303.5 172.1,302.3 173.1,302.5 174.1,302.4 175.2,301.9 176.2,300.9 177.2,301.2 178.3,302.6 179.6,303.1 180.8,304.3 181.8,308.6 182.8,313.1 183.9,315.3 184.9,318.3 185.9,319.4 187.0,320.7 188.1,321.7 189.1,321.3 190.1,317.5 191.2,312.8 192.2,311.4 193.2,308.6 194.2,307.8 195.3,307.9 196.7,305.6 198.0,305.0 199.1,308.4 200.1,311.3 201.1,314.5 202.2,317.2 203.2,317.3 204.3,318.0 205.7,318.2 207.0,316.4 208.4,315.0 209.9,313.8 211.2,313.1 212.6,313.5 213.9,312.5 215.3,312.5 216.3,312.0 217.3,310.3 218.4,308.4 219.4,304.4 220.4,304.5 221.5,303.4 222.6,306.3 223.6,307.4 224.6,311.3 225.7,314.5 226.7,317.2 227.7,319.6 229.4,323.4 230.4,319.7 231.3,315.0 232.7,309.6 234.0,304.8 235.1,306.2 236.1,307.5 237.3,307.5 238.6,305.5 239.6,308.6 240.6,310.5 241.8,311.2 243.0,312.5 244.2,313.7 245.2,311.8 246.2,311.1 247.2,306.8 248.3,304.7 249.4,298.3 250.4,293.4 251.4,299.4 252.5,304.9 253.6,308.9 254.6,310.9 255.6,311.8 256.6,311.9 257.6,311.2 258.7,311.6 259.8,313.1 260.8,315.5 262.1,316.3 263.3,315.8 264.4,316.8 265.4,318.9 266.4,317.8 267.4,314.7 268.8,313.9 270.1,313.2 271.5,313.9 272.8,315.2 274.1,315.5 275.3,317.3 276.6,316.8 277.8,318.6 279.1,320.2 280.5,320.5 281.9,321.1 283.2,321.6 284.4,318.9 285.7,317.0 286.8,314.2 287.8,309.9 288.9,307.4 289.9,305.6 290.9,302.9 292.0,300.4 293.1,304.3 294.1,308.9 295.3,312.9 296.5,316.7 297.9,317.2 299.3,317.9 300.6,318.1 302.0,317.1 303.2,314.0 304.4,309.9 305.4,308.1 306.5,305.8 307.6,307.2 308.6,309.5 309.9,310.8 311.1,312.0 312.5,311.6 313.8,310.8 315.1,310.3 316.5,309.6 317.6,309.0 318.6,308.0 319.9,309.7 321.1,313.1 322.4,314.8 323.6,316.1 325.0,318.2 326.3,319.1 327.6,320.5 329.0,322.2 330.1,317.3 331.1,314.5 332.4,311.7 333.6,309.0 334.8,309.1 336.0,310.3 337.5,309.0 338.9,310.2 340.2,312.2 341.5,311.1 342.9,308.6 344.1,308.2 345.4,305.4 346.4,307.7 347.5,309.1 348.8,312.4 350.0,315.0 351.4,316.9 352.7,318.3 354.0,319.9 355.4,322.2 356.6,318.1 357.9,314.6 359.1,311.7 360.4,307.7 361.8,307.0 363.1,306.8 364.5,304.3 365.8,303.6 367.1,301.9 368.3,301.2 369.3,304.1 370.3,305.8 371.4,304.2 372.4,302.4 373.6,297.1 374.9,293.7 375.9,297.6 377.0,302.6 378.1,307.2 379.1,311.9 380.5,312.7 381.8,313.2 382.8,313.6 383.9,313.5 384.9,313.2 385.9,312.7 387.0,313.0 388.0,313.0 389.4,312.5 390.7,313.2 391.9,314.4 393.2,316.3 394.2,317.4 395.3,317.9 396.3,319.8 397.3,320.1 398.4,321.5 399.4,321.3 400.5,321.4 401.5,321.1 402.6,319.1 403.6,318.0 404.7,317.6 405.7,315.3 406.9,316.3 408.2,317.0 409.5,320.2 410.9,321.4 412.3,322.3 413.6,321.8 415.0,321.2 416.3,322.5 417.6,322.3 418.9,322.1 420.2,321.9 421.5,322.2 422.7,322.7 424.0,321.6 425.2,321.8 426.5,322.7 427.6,321.7 428.7,322.2 429.8,321.5 430.9,320.5 432.0,319.5 433.1,319.8 434.1,318.0 435.2,316.3 436.2,314.8 437.2,316.5 438.3,319.2 439.6,320.3 440.8,321.2 442.1,320.2 443.5,317.1 444.9,315.6 446.2,313.1 447.6,310.4 449.1,308.8 450.5,308.6 451.8,307.1 453.1,309.0 454.5,311.7 455.9,312.1 457.4,312.8 458.8,314.5 460.1,316.1 461.2,317.3 462.2,316.9 463.3,319.0 464.6,319.4 465.8,321.5 467.1,318.4 468.5,315.9 469.9,313.1 471.2,310.3 472.4,307.7 473.7,306.5 474.7,305.2 475.8,305.2 476.8,303.7 478.1,301.5 479.5,299.2 480.8,301.0 482.0,303.8 483.2,308.8 484.5,312.2 485.9,315.3 487.2,318.8 488.2,319.6 489.3,320.6 490.3,320.8 491.3,319.9 492.4,318.5 493.4,317.2 494.4,316.5 495.5,315.4 496.5,314.7 497.5,314.9 498.6,315.2 499.6,317.2 500.7,317.1 501.7,317.6 502.8,318.7 503.8,319.7 504.9,320.5 505.9,320.1 506.9,320.8 508.0,320.7 509.0,320.4 510.1,319.8 511.1,318.7 512.2,318.7 513.2,317.7 514.6,318.5 515.9,319.1 517.3,318.4 518.3,317.7 519.4,318.5 520.5,318.6 521.5,318.2 522.9,317.9 524.2,318.2 525.6,318.0 527.0,319.2 528.4,318.2 529.8,318.0 530.8,318.2 531.9,319.8 533.0,319.2 534.0,320.1 535.4,318.6 536.7,318.9 538.1,319.0"/>
<polyline stroke="#ff4650" points="51.0,355.4 52.0,353.0 53.1,351.9 54.2,351.4 55.2,350.0 56.2,348.3 57.3,347.6 58.3,344.7 59.4,343.0 60.4,342.3 61.4,340.7 63.1,337.4 64.0,339.4 65.0,341.8 66.0,345.3 67.0,346.6 68.0,349.0 69.1,350.9 70.4,351.5 71.8,352.6 73.2,353.1 74.5,354.5 75.8,354.5 77.0,354.0 78.2,353.0 79.5,353.1 80.8,351.1 82.2,349.9 83.2,348.5 84.3,348.2 85.3,348.0 86.4,348.1 87.5,346.5 88.5,345.3 89.5,344.4 90.5,344.0 91.6,343.5 92.6,344.3 93.7,343.8 95.0,343.8 96.2,343.2 97.6,344.6 98.9,345.0 100.2,346.8 101.6,347.8 102.8,350.4 104.1,352.2 105.3,354.0 106.5,357.4 107.9,357.6 109.3,360.3 110.7,358.6 112.0,356.0 113.2,352.0 114.4,348.2 115.5,341.9 116.5,335.0 117.5,324.9 118.6,314.4 120.3,298.2 121.7,314.2 123.2,339.3 124.8,355.5 126.0,357.0 127.3,357.2 128.6,357.5 129.8,356.2 131.1,356.6 132.5,356.2 133.8,357.3 135.2,357.9 136.2,357.2 137.3,357.1 138.3,357.0 139.4,356.3 140.7,356.7 142.0,357.1 143.3,357.4 144.6,357.1 145.8,357.4 146.9,357.4 148.1,357.9 149.1,357.7 150.2,356.8 151.2,357.0 152.3,358.0 153.3,358.2 154.4,359.6 155.4,355.9 156.4,354.3 157.8,350.5 159.1,348.2 160.3,347.9 161.6,345.6 162.8,344.9 164.1,343.8 165.4,342.4 166.8,340.4 168.2,338.3 169.5,336.7 170.8,338.3 172.0,338.4 173.2,337.3 174.5,337.6 175.8,337.7 177.2,337.5 178.6,337.4 179.9,336.7 180.9,339.6 182.0,340.8 183.1,345.1 184.1,348.8 185.1,350.7 186.2,353.2 187.4,355.2 188.7,356.5 189.9,354.3 191.2,351.2 192.6,351.5 193.9,350.4 194.9,348.4 195.9,347.8 196.9,346.5 198.0,344.6 199.1,346.9 200.1,350.0 201.4,351.7 202.8,351.8 204.1,351.0 205.3,348.6 206.6,350.2 207.8,351.1 209.2,349.9 210.5,348.7 211.8,347.9 213.2,345.9 214.4,344.0 215.7,344.0 216.9,341.1 218.2,338.1 219.6,336.9 220.9,336.3 222.2,339.7 223.6,341.1 224.6,345.3 225.7,348.9 226.7,352.5 227.7,356.2 229.2,358.4 230.2,353.2 231.3,348.3 232.7,346.2 234.0,343.7 235.2,342.6 236.5,341.2 237.8,342.7 239.0,343.8 240.3,344.0 241.7,343.4 242.9,344.8 244.2,346.7 245.2,345.0 246.2,342.9 247.2,339.0 248.3,336.7 249.4,333.0 250.4,329.0 252.1,339.8 253.1,343.4 254.1,345.2 255.1,345.2 256.2,343.6 257.2,342.9 258.3,341.4 259.4,345.8 260.4,348.4 261.6,350.7 262.9,351.7 263.9,353.8 265.0,356.5 266.2,352.9 267.4,348.9 268.8,347.2 270.1,346.5 271.5,347.6 272.8,349.3 274.1,350.3 275.3,350.1 276.6,350.9 277.8,351.2 279.1,352.3 280.5,353.9 281.9,351.9 283.2,351.3 284.4,349.8 285.7,349.7 286.9,347.0 288.2,346.0 289.2,342.7 290.3,340.4 292.0,334.9 293.1,340.1 294.1,344.6 295.3,348.1 296.5,350.8 297.9,353.0 299.3,356.1 300.6,353.5 302.0,352.3 303.2,349.1 304.4,346.8 305.6,345.7 306.9,345.0 308.2,344.0 309.6,343.9 311.0,342.6 312.3,341.8 313.6,341.0 314.8,340.7 316.1,341.2 317.3,340.4 319.0,336.3 320.1,340.4 321.1,345.2 322.4,346.9 323.6,348.2 324.9,349.7 326.1,352.2 327.7,358.4 328.8,356.1 329.8,354.1 331.1,350.1 332.5,347.7 333.9,345.4 335.2,344.0 336.4,345.5 337.5,344.8 338.9,344.5 340.2,343.8 341.5,343.8 342.9,342.5 343.9,340.2 345.0,338.6 346.1,340.5 347.1,343.9 348.4,346.7 349.6,349.1 350.8,351.6 352.0,354.7 353.4,354.5 354.8,355.1 356.1,352.2 357.5,349.8 358.7,347.5 359.9,344.9 361.1,344.6 362.4,344.0 363.8,341.4 365.1,339.4 366.5,337.1 367.8,335.3 369.1,339.0 370.3,342.3 371.6,340.5 372.8,338.0 374.1,337.0 375.5,335.2 376.6,338.8 377.6,342.6 378.6,347.1 379.7,351.1 381.0,352.5 382.4,354.3 383.9,354.9 385.3,356.2 386.4,355.0 387.5,353.7 388.6,351.9 390.1,351.8 391.5,353.2 392.9,353.9 394.3,352.9 395.6,354.2 397.0,354.1 398.4,355.2 399.9,356.1 401.2,356.2 402.6,355.5 404.0,354.6 405.3,353.0 406.3,351.3 407.3,350.3 408.4,353.8 409.4,355.9 410.6,356.5 411.8,356.4 413.0,357.7 414.3,357.5 415.6,357.8 416.9,357.3 418.2,357.8 419.5,357.1 420.8,357.9 422.1,356.9 423.4,357.2 424.7,358.3 426.0,358.4 427.3,357.5 428.6,357.3 429.8,355.9 431.0,352.7 432.1,352.9 433.1,355.4 434.1,355.4 435.2,355.7 436.2,356.7 437.3,355.8 438.3,355.4 439.4,354.5 440.8,352.9 442.1,351.9 443.4,349.1 444.6,347.9 445.8,345.7 447.0,343.9 448.4,340.8 449.8,340.1 451.1,339.6 452.5,338.6 453.7,342.4 454.9,344.3 456.1,345.8 457.4,347.9 458.8,351.3 460.1,353.1 461.5,353.2 462.8,355.2 464.1,353.4 465.3,353.9 466.6,352.8 467.8,352.1 469.1,350.1 470.5,347.8 471.6,346.9 472.6,345.3 473.7,345.0 474.7,343.5 475.8,343.3 476.8,342.6 478.1,341.0 479.5,340.6 480.8,342.0 482.0,342.7 483.2,345.9 484.5,348.4 485.9,350.7 487.2,351.8 488.2,354.0 489.3,354.5 490.3,356.1 491.3,355.3 492.4,354.9 493.4,355.6 494.4,354.5 495.5,353.3 496.5,351.6 497.5,351.1 498.6,348.9 499.6,347.8 500.7,347.9 501.7,348.0 502.8,347.8 503.8,347.0 504.9,348.2 505.9,348.2 506.9,348.8 508.0,348.4 509.0,348.9 510.1,349.4 511.1,348.6 512.2,349.4 513.2,348.4 514.6,348.5 515.9,348.6 517.3,349.4 518.3,349.7 519.4,349.6 520.5,351.0 521.5,350.5 522.9,351.6 524.2,352.2 525.6,353.1 527.0,352.6 528.4,354.7 529.8,354.8 530.8,354.3 531.9,355.3 533.0,354.7 534.0,355.6 535.4,354.4 536.7,353.6 538.1,353.5"/>
<polyline stroke="#1e8cd2" points="51.0,389.9 52.5,387.7 54.2,385.4 55.2,385.1 56.2,385.8 57.2,385.4 58.3,384.5 60.0,383.2 61.5,382.3 62.9,382.3 64.3,382.7 65.8,385.2 67.0,385.7 68.3,387.2 69.5,388.7 70.8,389.3 72.5,390.6 73.5,388.0 74.6,386.0 75.7,389.8 76.7,393.2 77.7,390.7 78.8,388.4 80.4,389.6 81.5,393.2 82.5,397.6 84.2,389.4 85.2,389.7 86.3,389.5 87.3,387.9 88.3,385.4 90.0,380.7 91.2,379.4 92.5,376.5 94.2,380.0 95.8,375.3 96.9,376.9 98.1,376.2 99.2,377.8 100.9,379.3 102.0,380.4 103.0,382.1 104.0,385.2 105.1,387.9 106.2,389.2 107.2,392.3 108.8,396.8 109.8,395.8 110.7,393.8 112.4,387.7 113.4,383.2 114.4,377.1 115.5,371.0 116.5,364.5 117.5,356.5 118.6,346.2 120.3,335.5 121.7,350.9 123.2,373.9 124.8,388.4 126.0,389.8 127.3,391.4 128.7,390.6 130.0,388.9 131.1,390.4 132.1,390.9 133.2,391.9 134.6,391.7 135.9,391.4 137.3,390.7 138.7,391.1 140.1,391.9 141.5,392.0 142.9,391.3 144.2,392.8 145.6,391.8 146.8,392.8 148.1,393.3 149.1,392.0 150.2,392.1 151.2,391.4 152.4,394.4 153.7,396.7 154.8,394.1 155.8,392.4 156.9,394.1 157.9,394.6 158.9,392.4 160.0,388.4 161.0,387.4 162.0,384.5 163.1,381.9 164.1,379.5 165.8,373.1 166.9,369.8 167.9,366.9 168.9,366.4 170.0,365.9 171.0,367.8 172.0,367.7 173.2,366.4 174.5,364.6 175.6,366.4 176.6,367.0 177.6,369.5 178.7,371.1 179.8,373.1 180.8,375.7 181.8,378.7 182.8,383.6 183.9,386.2 184.9,389.0 185.9,391.4 187.0,394.1 188.3,396.0 189.7,398.4 190.8,392.9 191.8,388.0 192.9,383.9 193.9,379.0 194.9,376.3 195.9,375.2 197.2,371.4 198.6,369.2 199.6,372.4 200.7,375.3 201.8,378.2 202.8,381.1 203.9,381.5 204.9,380.8 206.2,381.2 207.4,382.8 208.7,383.1 209.9,381.2 210.9,382.9 211.9,384.5 213.2,383.9 214.6,381.6 215.6,381.1 216.7,380.1 217.8,376.4 218.8,374.5 220.2,371.9 221.5,371.0 222.6,369.9 223.6,369.2 224.6,375.1 225.7,380.3 226.7,384.3 227.7,389.6 228.8,393.1 229.8,396.2 230.9,394.3 231.9,392.2 232.9,387.9 234.0,382.2 235.1,377.4 236.1,371.7 237.1,368.5 238.1,366.4 239.1,368.4 240.2,371.6 241.5,370.2 242.9,370.8 244.2,369.1 245.2,375.8 246.2,380.5 247.2,374.7 248.3,369.0 250.0,365.8 251.1,371.5 252.1,377.1 253.1,379.4 254.1,381.3 255.1,382.5 256.2,383.3 257.2,379.5 258.3,373.0 259.8,382.2 260.8,384.3 261.8,387.9 262.9,390.4 263.9,391.8 264.9,393.7 266.0,397.1 267.4,394.1 268.7,391.5 269.9,391.1 271.2,390.0 272.4,387.2 273.7,384.3 275.0,383.9 276.4,383.2 277.8,385.7 279.1,389.1 280.4,390.1 281.6,390.5 282.9,387.1 284.1,383.7 285.1,380.4 286.2,378.6 287.2,374.6 288.2,372.6 289.2,370.3 290.3,368.1 291.4,365.8 292.4,364.2 293.4,369.6 294.5,373.6 295.5,378.1 296.5,383.9 297.6,387.8 298.6,392.5 299.6,393.4 300.7,392.7 301.8,390.5 302.8,388.8 303.9,386.6 304.9,384.5 305.9,382.8 306.9,382.6 308.2,383.0 309.6,383.5 310.6,381.5 311.7,380.0 312.8,377.2 313.8,375.0 315.1,372.8 316.5,370.8 317.6,370.0 318.6,369.1 319.6,372.7 320.7,377.2 321.9,380.3 323.2,383.7 324.4,385.2 325.7,388.2 327.0,393.0 328.4,396.2 329.8,394.7 331.1,392.2 332.4,389.1 333.6,386.6 334.8,385.8 336.0,384.2 337.1,383.9 338.1,381.3 339.2,379.4 340.4,379.8 341.7,378.0 342.7,378.2 343.7,376.6 344.8,375.5 345.8,375.5 346.9,379.1 347.9,380.2 348.9,384.2 350.0,387.7 351.4,390.4 352.7,391.8 353.8,392.9 354.8,392.1 355.8,389.9 356.8,385.5 357.9,382.5 358.9,379.0 359.9,377.5 361.0,376.2 362.1,375.3 363.1,373.7 364.1,372.9 365.2,371.1 366.2,370.7 367.4,372.3 368.7,372.3 370.0,372.7 371.4,373.1 372.4,374.0 373.5,373.2 374.5,372.6 375.8,373.1 377.0,372.9 378.7,383.6 379.7,387.4 380.7,389.8 381.9,388.2 383.2,386.7 384.5,389.7 385.9,394.4 387.2,394.3 388.6,393.8 389.9,394.4 391.1,395.1 392.4,392.4 393.6,389.8 394.6,389.2 395.7,388.9 396.8,390.8 397.8,394.1 399.1,392.9 400.5,392.9 401.9,390.6 403.2,389.6 404.4,387.3 405.7,384.4 406.8,384.9 407.8,386.5 408.8,390.6 409.8,394.2 411.2,393.9 412.6,395.0 414.0,395.0 415.2,395.5 416.5,395.1 417.7,394.1 419.0,394.3 420.2,394.5 421.5,395.3 422.7,394.7 424.0,394.7 425.2,394.8 426.5,395.0 427.9,395.2 429.2,395.3 430.6,395.4 431.9,393.5 433.1,393.5 434.1,394.8 435.2,394.6 436.2,394.8 437.3,395.0 438.3,394.6 439.4,392.7 440.8,390.6 442.1,388.9 443.4,386.9 444.6,384.4 445.8,382.3 447.0,380.8 448.4,380.1 449.8,377.9 450.8,376.9 451.8,377.4 452.9,377.9 453.9,379.2 454.9,381.8 456.0,384.2 457.4,387.3 458.7,388.3 459.9,391.0 461.2,392.4 462.4,390.1 463.7,389.0 465.0,389.5 466.4,389.7 467.4,388.0 468.5,387.4 469.9,385.1 471.2,382.7 472.4,379.5 473.7,378.0 474.9,377.9 476.2,379.4 477.5,378.4 478.9,375.9 480.2,377.8 481.6,380.4 482.9,383.2 484.1,385.6 485.3,386.9 486.5,390.4 487.9,392.2 489.3,393.5 490.6,392.4 492.0,391.7 493.2,387.4 494.4,385.1 495.6,383.2 496.9,379.9 498.2,378.6 499.6,377.2 501.0,380.0 502.3,381.2 503.8,382.1 505.3,382.6 506.6,382.8 508.0,383.6 509.0,383.1 510.1,382.7 511.1,381.8 512.1,382.5 513.2,383.1 514.2,382.6 515.2,383.8 516.3,383.8 517.3,383.8 518.3,383.6 519.4,384.0 520.4,382.3 521.5,382.6 522.5,383.7 523.6,383.4 524.6,386.1 525.6,387.8 526.7,387.9 527.7,388.9 528.8,390.5 529.8,391.5 530.9,391.8 531.9,392.9 532.9,391.3 534.0,390.8 535.0,390.5 536.4,392.7 537.7,394.2"/>
</g>
<g fill="#000" fill-opacity="0.245">
<rect x="56.3" y="14" width="13.7" height="384.5"/>
<rect x="82.8" y="45" width="5.8" height="353.5"/>
<rect x="229.5" y="39" width="7.1" height="359.5"/>
<rect x="264.2" y="51" width="9.1" height="347.5"/>
<rect x="385.2" y="68.5" width="11.0" height="330.0"/>
</g>
<rect x="67.6" y="11" width="3" height="27.8" fill="#fff"/>
<text class="pk" transform="translate(80.0,40.4) rotate(-90) scale(1.04,1)">574</text>
<text class="pk" transform="translate(95.5,44.6) rotate(-90) scale(1.0,1)">631</text>
<text class="pk" transform="translate(243.0,38.1) rotate(-90) scale(1.04,1)">991</text>
<text class="pk" transform="translate(276.3,51.1) rotate(-90) scale(1.04,1)">1076</text>
<text class="pk" transform="translate(396.9,69.8) rotate(-90) scale(1.04,1)">1372</text>
<g stroke="#000" stroke-width="1.8" fill="none" stroke-linecap="butt">
<rect x="50" y="7.3" width="490" height="395.4" stroke-linejoin="round"/>
<line x1="42" y1="7.3" x2="50" y2="7.3"/>
<line x1="42" y1="85.36" x2="50" y2="85.36"/>
<line x1="42" y1="163.42000000000002" x2="50" y2="163.42000000000002"/>
<line x1="42" y1="241.48000000000002" x2="50" y2="241.48000000000002"/>
<line x1="42" y1="319.54" x2="50" y2="319.54"/>
<line x1="42" y1="397.6" x2="50" y2="397.6"/>
<line x1="46" y1="46.3" x2="50" y2="46.3"/>
<line x1="46" y1="124.36" x2="50" y2="124.36"/>
<line x1="46" y1="202.42000000000002" x2="50" y2="202.42000000000002"/>
<line x1="46" y1="280.48" x2="50" y2="280.48"/>
<line x1="46" y1="358.54" x2="50" y2="358.54"/>
<line x1="74.3" y1="402.7" x2="74.3" y2="410.5"/>
<line x1="196.9" y1="402.7" x2="196.9" y2="410.5"/>
<line x1="319.6" y1="402.7" x2="319.6" y2="410.5"/>
<line x1="442.2" y1="402.7" x2="442.2" y2="410.5"/>
<line x1="135.6" y1="402.7" x2="135.6" y2="406.5"/>
<line x1="258.2" y1="402.7" x2="258.2" y2="406.5"/>
<line x1="380.9" y1="402.7" x2="380.9" y2="406.5"/>
<line x1="503.5" y1="402.7" x2="503.5" y2="406.5"/>
</g>
<text class="tl" x="74.3" y="435.3" text-anchor="middle">600</text>
<text class="tl" x="196.9" y="435.3" text-anchor="middle">900</text>
<text class="tl" x="319.6" y="435.3" text-anchor="middle">1200</text>
<text class="tl" x="442.2" y="435.3" text-anchor="middle">1500</text>
<text class="ax" transform="translate(182.4,470.5) scale(1.04,1)">Raman shift (cm<tspan dy="-11" style="font-size:15.5px">-1</tspan><tspan dy="11">)</tspan></text>
<text class="ax" style="font-size:26px" transform="translate(26.8,292.3) rotate(-90) scale(1.05,1)">Intensity (a.u.)</text>
<text class="lt" x="507" y="76">a</text>
<text class="lt" x="510.5" y="128.5">b</text>
<text class="lt" x="511" y="185">c</text>
<text class="lt" x="510" y="222.5">d</text>
<text class="lt" x="511" y="265.5">e</text>
<text class="lt" x="510" y="316.5">f</text>
<text class="lt" x="510" y="340.5">g</text>
<text class="lt" x="510" y="379">h</text>
</svg></body></html>
